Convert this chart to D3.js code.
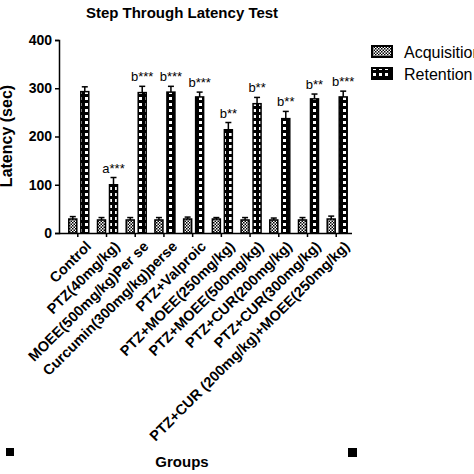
<!DOCTYPE html><html><head><script src="https://cdn.jsdelivr.net/npm/d3@7"></script>
<style>body{margin:0;background:#fff}text{font-family:Arial,"Liberation Sans",sans-serif}</style></head><body>
<svg id="c" width="474" height="474"></svg>
<script>
const groups=["Control","PTZ(40mg/kg)","MOEE(500mg/kg)Per se","Curcumin(300mg/kg)perse","PTZ+Valproic","PTZ+MOEE(250mg/kg)","PTZ+MOEE(500mg/kg)","PTZ+CUR(200mg/kg)","PTZ+CUR(300mg/kg)","PTZ+CUR (200mg/kg)+MOEE(250mg/kg)"];
const acquisition=[29,27,27,27,29,29,27,27,27,29];
const acqErr=[5,5,5,5,4,3,5,4,5,6];
const retention=[293,100,291,292,282,214,268,237,278,282];
const retErr=[10,15,13,12,10,15,13,15,10,12];
const sig=["","a***","b***","b***","b***","b**","b**","b**","b**","b***"];
const yTicks=[0,100,200,300,400];
const svg=d3.select("#c");
const defs=svg.append("defs");
const p1=defs.append("pattern").attr("id","pa").attr("width",3).attr("height",3).attr("patternUnits","userSpaceOnUse");
p1.append("rect").attr("width",3).attr("height",3).attr("fill","#fff");
p1.append("rect").attr("width",1.5).attr("height",1.5).attr("fill","#000");
p1.append("rect").attr("x",1.5).attr("y",1.5).attr("width",1.5).attr("height",1.5).attr("fill","#000");
const p2=defs.append("pattern").attr("id","pr").attr("width",6).attr("height",6).attr("patternUnits","userSpaceOnUse");
p2.append("rect").attr("width",6).attr("height",6).attr("fill","#000");
p2.append("rect").attr("x",1).attr("y",1).attr("width",3).attr("height",3).attr("fill","#fff");
const x=d3.scaleBand().domain(groups).range([62,352]).padding(0.1);
const y=d3.scaleLinear().domain([0,400]).range([233,40]);
const g=svg.append("g");
g.append("g").attr("transform","translate(59,0)").call(d3.axisLeft(y).tickValues(yTicks).tickSize(4))
 .call(a=>{a.selectAll("text").style("font-size","14px").style("font-weight","bold");a.selectAll("path,line").attr("stroke-width",1.5);});
const xa=g.append("g").attr("transform","translate(0,233)").call(d3.axisBottom(x).tickSize(4).tickSizeOuter(0));
xa.select(".domain").attr("d","M59,0.5H352").attr("stroke-width",1.5);
xa.selectAll("line").attr("stroke-width",1.5);
xa.selectAll("text").style("font-size","14.5px").style("font-weight","bold").attr("text-anchor","end")
 .attr("transform","translate(5,5) rotate(-45)").attr("dy","0.35em").attr("dx","0").attr("y",8);
const bw=8;
groups.forEach((d,i)=>{
 const cx=x(d)+x.bandwidth()/2;
 [[acquisition[i],acqErr[i],cx-9,"url(#pa)"],[retention[i],retErr[i],cx+3,"url(#pr)"]].forEach(([v,e,bx,f])=>{
  g.append("line").attr("x1",bx+bw/2).attr("x2",bx+bw/2).attr("y1",y(v)).attr("y2",y(v+e)).attr("stroke","#000").attr("stroke-width",1.5);
  g.append("line").attr("x1",bx+1).attr("x2",bx+bw-1).attr("y1",y(v+e)).attr("y2",y(v+e)).attr("stroke","#000").attr("stroke-width",1.5);
  g.append("rect").attr("x",bx).attr("y",y(v)).attr("width",bw).attr("height",y(0)-y(v)).attr("fill",f).attr("stroke","#000").attr("stroke-width",1.5);
 });
 if(sig[i]) g.append("text").attr("x",cx+7).attr("y",y(retention[i]+retErr[i])-5).attr("text-anchor","middle").style("font-size","13px").text(sig[i]);
});
svg.append("text").attr("x",182).attr("y",18).attr("text-anchor","middle").style("font-size","15px").style("font-weight","bold").text("Step Through Latency Test");
svg.append("text").attr("transform","translate(12,136) rotate(-90)").attr("text-anchor","middle").style("font-size","16px").style("font-weight","bold").text("Latency (sec)");
svg.append("text").attr("x",182).attr("y",467).attr("text-anchor","middle").style("font-size","15px").style("font-weight","bold").text("Groups");
[["Acquisition","url(#pa)"],["Retention","url(#pr)"]].forEach((l,i)=>{
 svg.append("rect").attr("x",372).attr("y",46+i*22).attr("width",20).attr("height",11).attr("fill",l[1]).attr("stroke","#000").attr("stroke-width",2);
 svg.append("text").attr("x",404).attr("y",58+i*22).style("font-size","16px").text(l[0]);
});
svg.append("rect").attr("x",6).attr("y",448).attr("width",8).attr("height",8);
svg.append("rect").attr("x",348).attr("y",448).attr("width",9).attr("height",9);
</script></body></html>
